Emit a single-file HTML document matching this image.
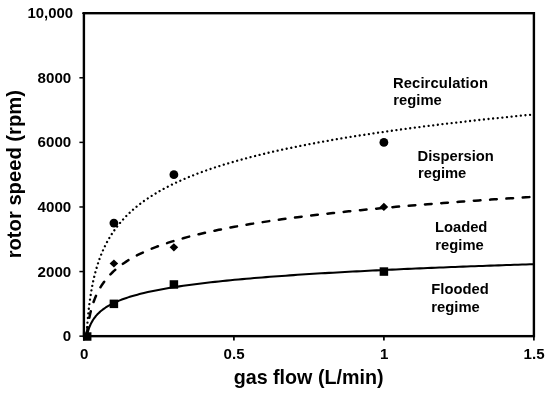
<!DOCTYPE html>
<html><head><meta charset="utf-8"><title>chart</title>
<style>
html,body{margin:0;padding:0;background:#fff;}
body{width:550px;height:393px;overflow:hidden;}
svg{display:block;}
text{font-family:"Liberation Sans",sans-serif;font-weight:bold;fill:#000;}
.t{font-size:15.1px;}
.a{font-size:19.7px;}
.r{font-size:14.75px;}
</style></head><body>
<svg width="550" height="393" viewBox="0 0 550 393">
<rect width="550" height="393" fill="#fff"/>

<rect x="83.90" y="13.20" width="450.00" height="322.95" fill="none" stroke="#000" stroke-width="2.4"/>
<line x1="79.40" x2="84" y1="336.15" y2="336.15" stroke="#000" stroke-width="1.5"/>
<line x1="79.40" x2="84" y1="271.56" y2="271.56" stroke="#000" stroke-width="1.5"/>
<line x1="79.40" x2="84" y1="206.97" y2="206.97" stroke="#000" stroke-width="1.5"/>
<line x1="79.40" x2="84" y1="142.38" y2="142.38" stroke="#000" stroke-width="1.5"/>
<line x1="79.40" x2="84" y1="77.79" y2="77.79" stroke="#000" stroke-width="1.5"/>
<line x1="82.20" x2="84" y1="13.20" y2="13.20" stroke="#000" stroke-width="1.5"/>
<line x1="83.90" x2="83.90" y1="336.3" y2="340.5" stroke="#000" stroke-width="1.7"/>
<line x1="233.90" x2="233.90" y1="336.3" y2="340.5" stroke="#000" stroke-width="1.7"/>
<line x1="383.90" x2="383.90" y1="336.3" y2="340.5" stroke="#000" stroke-width="1.7"/>
<line x1="533.90" x2="533.90" y1="336.3" y2="340.5" stroke="#000" stroke-width="1.7"/>
<path d="M533.90 264.19 L529.96 264.32 L526.02 264.44 L522.08 264.57 L518.14 264.70 L514.20 264.83 L510.26 264.96 L506.32 265.09 L502.38 265.23 L498.45 265.36 L494.51 265.50 L490.57 265.64 L486.63 265.78 L482.69 265.92 L478.75 266.06 L474.81 266.20 L470.87 266.35 L466.93 266.50 L462.99 266.64 L459.05 266.79 L455.11 266.94 L451.17 267.10 L447.23 267.25 L443.29 267.41 L439.35 267.56 L435.42 267.72 L431.48 267.89 L427.54 268.05 L423.60 268.21 L419.66 268.38 L415.72 268.55 L411.78 268.72 L407.84 268.89 L403.90 269.07 L399.96 269.25 L396.02 269.42 L392.08 269.61 L388.14 269.79 L384.20 269.98 L380.26 270.17 L376.32 270.36 L372.38 270.55 L368.45 270.75 L364.51 270.95 L360.57 271.15 L356.63 271.36 L352.69 271.56 L348.75 271.78 L344.81 271.99 L340.87 272.21 L336.93 272.43 L332.99 272.65 L329.05 272.88 L325.11 273.11 L321.17 273.35 L317.23 273.59 L313.29 273.83 L309.35 274.08 L305.42 274.33 L301.48 274.59 L297.54 274.85 L293.60 275.12 L289.66 275.39 L285.72 275.66 L281.78 275.95 L277.84 276.23 L273.90 276.53 L269.96 276.83 L266.02 277.13 L262.08 277.45 L258.14 277.77 L254.20 278.09 L250.26 278.43 L246.32 278.77 L242.38 279.12 L238.45 279.48 L234.51 279.85 L230.57 280.23 L226.63 280.62 L222.69 281.02 L218.75 281.43 L214.81 281.86 L210.87 282.30 L206.93 282.75 L202.99 283.21 L199.05 283.69 L195.11 284.19 L191.17 284.71 L187.23 285.24 L183.29 285.80 L179.35 286.38 L175.42 286.98 L171.48 287.61 L167.54 288.27 L163.60 288.96 L159.66 289.69 L155.72 290.45 L151.78 291.26 L147.84 292.11 L143.90 293.02 L141.65 293.57 L139.49 294.11 L137.41 294.66 L135.41 295.21 L133.48 295.75 L131.62 296.30 L129.84 296.84 L128.12 297.39 L126.46 297.94 L124.87 298.48 L123.34 299.03 L121.86 299.57 L120.44 300.12 L119.07 300.67 L117.75 301.21 L116.49 301.76 L115.27 302.30 L114.09 302.85 L112.96 303.39 L111.88 303.94 L110.83 304.49 L109.82 305.03 L108.85 305.58 L107.92 306.12 L107.02 306.67 L106.15 307.22 L105.32 307.76 L104.52 308.31 L103.75 308.85 L103.00 309.40 L102.29 309.95 L101.60 310.49 L100.94 311.04 L100.30 311.58 L99.69 312.13 L99.09 312.68 L98.53 313.22 L97.98 313.77 L97.45 314.31 L96.94 314.86 L96.46 315.41 L95.99 315.95 L95.53 316.50 L95.10 317.04 L94.68 317.59 L94.28 318.13 L93.89 318.68 L93.51 319.23 L93.15 319.77 L92.81 320.32 L92.47 320.86 L92.15 321.41 L91.84 321.96 L91.55 322.50 L91.26 323.05 L90.98 323.59 L90.72 324.14 L90.46 324.69 L90.22 325.23 L89.98 325.78 L89.75 326.32 L89.54 326.87 L89.32 327.42 L89.12 327.96 L88.93 328.51 L88.74 329.05 L88.56 329.60 L88.38 330.14 L88.21 330.69 L88.05 331.24 L87.90 331.78 L87.75 332.33 L87.60 332.87 L87.47 333.42 L87.33 333.97 L87.20 334.51 L87.08 335.06 L86.96 335.60 L86.85 336.15" fill="none" stroke="#000" stroke-width="2.05"/>
<path d="M533.90 196.84 L529.96 197.09 L526.02 197.33 L522.08 197.57 L518.14 197.82 L514.20 198.07 L510.26 198.32 L506.32 198.58 L502.38 198.83 L498.45 199.09 L494.51 199.35 L490.57 199.62 L486.63 199.88 L482.69 200.15 L478.75 200.43 L474.81 200.70 L470.87 200.98 L466.93 201.26 L462.99 201.54 L459.05 201.83 L455.11 202.12 L451.17 202.41 L447.23 202.70 L443.29 203.00 L439.35 203.30 L435.42 203.61 L431.48 203.92 L427.54 204.23 L423.60 204.55 L419.66 204.87 L415.72 205.19 L411.78 205.52 L407.84 205.85 L403.90 206.18 L399.96 206.52 L396.02 206.86 L392.08 207.21 L388.14 207.56 L384.20 207.92 L380.26 208.28 L376.32 208.65 L372.38 209.02 L368.45 209.40 L364.51 209.78 L360.57 210.17 L356.63 210.56 L352.69 210.96 L348.75 211.36 L344.81 211.77 L340.87 212.19 L336.93 212.61 L332.99 213.04 L329.05 213.48 L325.11 213.92 L321.17 214.37 L317.23 214.83 L313.29 215.30 L309.35 215.77 L305.42 216.25 L301.48 216.75 L297.54 217.25 L293.60 217.76 L289.66 218.28 L285.72 218.81 L281.78 219.35 L277.84 219.90 L273.90 220.46 L269.96 221.03 L266.02 221.62 L262.08 222.22 L258.14 222.83 L254.20 223.46 L250.26 224.10 L246.32 224.75 L242.38 225.42 L238.45 226.11 L234.51 226.82 L230.57 227.55 L226.63 228.29 L222.69 229.06 L218.75 229.85 L214.81 230.66 L210.87 231.50 L206.93 232.36 L202.99 233.25 L199.05 234.17 L195.11 235.13 L191.17 236.11 L187.23 237.14 L183.29 238.20 L179.35 239.31 L175.42 240.46 L171.48 241.67 L167.54 242.93 L163.60 244.25 L159.66 245.64 L155.72 247.10 L151.78 248.65 L147.84 250.28 L143.90 252.03 L141.61 253.09 L139.41 254.16 L137.29 255.22 L135.26 256.28 L133.30 257.35 L131.41 258.41 L129.60 259.48 L127.86 260.54 L126.18 261.61 L124.57 262.67 L123.02 263.74 L121.53 264.80 L120.09 265.87 L118.71 266.93 L117.38 268.00 L116.11 269.06 L114.88 270.13 L113.70 271.19 L112.56 272.26 L111.47 273.32 L110.42 274.39 L109.41 275.45 L108.43 276.52 L107.50 277.58 L106.60 278.65 L105.73 279.71 L104.90 280.78 L104.10 281.84 L103.33 282.91 L102.59 283.97 L101.87 285.04 L101.19 286.10 L100.53 287.17 L99.90 288.23 L99.29 289.30 L98.70 290.36 L98.13 291.43 L97.59 292.49 L97.07 293.56 L96.57 294.62 L96.08 295.68 L95.62 296.75 L95.17 297.81 L94.74 298.88 L94.33 299.94 L93.93 301.01 L93.55 302.07 L93.18 303.14 L92.83 304.20 L92.49 305.27 L92.16 306.33 L91.84 307.40 L91.54 308.46 L91.25 309.53 L90.97 310.59 L90.70 311.66 L90.44 312.72 L90.19 313.79 L89.95 314.85 L89.72 315.92 L89.50 316.98 L89.28 318.05 L89.08 319.11 L88.88 320.18 L88.69 321.24 L88.51 322.31 L88.33 323.37 L88.16 324.44 L88.00 325.50 L87.85 326.57 L87.69 327.63 L87.55 328.70 L87.41 329.76 L87.28 330.83 L87.15 331.89 L87.02 332.96 L86.91 334.02 L86.79 335.09 L86.68 336.15" fill="none" stroke="#000" stroke-width="2.5" stroke-linecap="round" stroke-dasharray="6.67 9.66" stroke-dashoffset="11.78"/>
<path d="M533.90 114.43 L529.96 114.81 L526.02 115.19 L522.08 115.57 L518.14 115.96 L514.20 116.35 L510.26 116.75 L506.32 117.15 L502.38 117.55 L498.45 117.96 L494.51 118.37 L490.57 118.78 L486.63 119.20 L482.69 119.63 L478.75 120.05 L474.81 120.48 L470.87 120.92 L466.93 121.36 L462.99 121.80 L459.05 122.25 L455.11 122.71 L451.17 123.17 L447.23 123.63 L443.29 124.10 L439.35 124.57 L435.42 125.05 L431.48 125.54 L427.54 126.03 L423.60 126.52 L419.66 127.02 L415.72 127.53 L411.78 128.05 L407.84 128.57 L403.90 129.09 L399.96 129.62 L396.02 130.16 L392.08 130.71 L388.14 131.26 L384.20 131.82 L380.26 132.39 L376.32 132.97 L372.38 133.55 L368.45 134.14 L364.51 134.74 L360.57 135.35 L356.63 135.97 L352.69 136.59 L348.75 137.23 L344.81 137.87 L340.87 138.53 L336.93 139.19 L332.99 139.86 L329.05 140.55 L325.11 141.25 L321.17 141.96 L317.23 142.68 L313.29 143.41 L309.35 144.15 L305.42 144.91 L301.48 145.68 L297.54 146.47 L293.60 147.27 L289.66 148.08 L285.72 148.92 L281.78 149.76 L277.84 150.63 L273.90 151.51 L269.96 152.41 L266.02 153.33 L262.08 154.27 L258.14 155.23 L254.20 156.22 L250.26 157.22 L246.32 158.25 L242.38 159.31 L238.45 160.39 L234.51 161.50 L230.57 162.64 L226.63 163.81 L222.69 165.02 L218.75 166.26 L214.81 167.53 L210.87 168.85 L206.93 170.20 L202.99 171.60 L199.05 173.05 L195.11 174.54 L191.17 176.10 L187.23 177.70 L183.29 179.38 L179.35 181.11 L175.42 182.93 L171.48 184.82 L167.54 186.80 L163.60 188.87 L159.66 191.05 L155.72 193.35 L151.78 195.78 L147.84 198.35 L143.90 201.08 L141.56 202.79 L139.31 204.50 L137.15 206.21 L135.08 207.92 L133.08 209.63 L131.17 211.34 L129.32 213.05 L127.55 214.76 L125.85 216.47 L124.22 218.18 L122.65 219.89 L121.14 221.60 L119.68 223.31 L118.29 225.02 L116.95 226.73 L115.66 228.44 L114.42 230.15 L113.23 231.86 L112.09 233.57 L110.99 235.28 L109.94 236.99 L108.92 238.70 L107.95 240.41 L107.01 242.12 L106.11 243.83 L105.24 245.54 L104.41 247.25 L103.61 248.95 L102.84 250.66 L102.10 252.37 L101.40 254.08 L100.71 255.79 L100.06 257.50 L99.43 259.21 L98.82 260.92 L98.24 262.63 L97.68 264.34 L97.15 266.05 L96.63 267.76 L96.13 269.47 L95.66 271.18 L95.20 272.89 L94.76 274.60 L94.33 276.31 L93.93 278.02 L93.54 279.73 L93.16 281.44 L92.80 283.15 L92.45 284.86 L92.12 286.57 L91.80 288.28 L91.49 289.99 L91.20 291.70 L90.91 293.41 L90.64 295.12 L90.38 296.83 L90.12 298.54 L89.88 300.25 L89.65 301.96 L89.42 303.67 L89.21 305.38 L89.00 307.08 L88.80 308.79 L88.61 310.50 L88.43 312.21 L88.25 313.92 L88.08 315.63 L87.92 317.34 L87.76 319.05 L87.61 320.76 L87.47 322.47 L87.33 324.18 L87.19 325.89 L87.07 327.60 L86.94 329.31 L86.82 331.02 L86.71 332.73 L86.60 334.44 L86.50 336.15" fill="none" stroke="#000" stroke-width="2.3" stroke-linecap="round" stroke-dasharray="0.01 4.628" stroke-dashoffset="0.78"/>
<rect x="82.95" y="332.25" width="8.5" height="8.5" fill="#000"/>
<rect x="109.65" y="299.60" width="8.5" height="8.5" fill="#000"/>
<rect x="169.65" y="280.23" width="8.5" height="8.5" fill="#000"/>
<rect x="379.65" y="267.31" width="8.5" height="8.5" fill="#000"/>
<path d="M113.90 259.39 l4.3 4.1 l-4.3 4.1 l-4.3 -4.1 z" fill="#000"/>
<path d="M173.90 243.24 l4.3 4.1 l-4.3 4.1 l-4.3 -4.1 z" fill="#000"/>
<path d="M383.90 202.87 l4.3 4.1 l-4.3 4.1 l-4.3 -4.1 z" fill="#000"/>
<circle cx="113.90" cy="223.12" r="4.4" fill="#000"/>
<circle cx="173.90" cy="174.67" r="4.4" fill="#000"/>
<circle cx="383.90" cy="142.38" r="4.4" fill="#000"/>
<text class="t" x="71.2" y="341.25" text-anchor="end">0</text>
<text class="t" x="71.2" y="276.66" text-anchor="end">2000</text>
<text class="t" x="71.2" y="212.07" text-anchor="end">4000</text>
<text class="t" x="71.2" y="147.48" text-anchor="end">6000</text>
<text class="t" x="71.2" y="82.89" text-anchor="end">8000</text>
<text class="t" x="73" y="17.9" text-anchor="end" style="font-size:14.9px">10,000</text>
<text class="t" x="84.10" y="358.8" text-anchor="middle">0</text>
<text class="t" x="234.10" y="358.8" text-anchor="middle">0.5</text>
<text class="t" x="384.10" y="358.8" text-anchor="middle">1</text>
<text class="t" x="534.10" y="358.8" text-anchor="middle">1.5</text>
<text class="a" x="308.6" y="383.8" text-anchor="middle">gas flow (L/min)</text>
<text class="a" style="font-size:20.2px" transform="translate(21.3 174.2) rotate(-90)" text-anchor="middle">rotor speed (rpm)</text>
<text class="r" x="392.95" y="87.6" style="letter-spacing:0.13px">Recirculation</text>
<text class="r" x="393.35" y="105.4">regime</text>
<text class="r" x="417.55" y="160.6">Dispersion</text>
<text class="r" x="417.95" y="178.4">regime</text>
<text class="r" x="434.95" y="232">Loaded</text>
<text class="r" x="435.35" y="249.6">regime</text>
<text class="r" x="431.35" y="294">Flooded</text>
<text class="r" x="431.35" y="312">regime</text>
</svg></body></html>
